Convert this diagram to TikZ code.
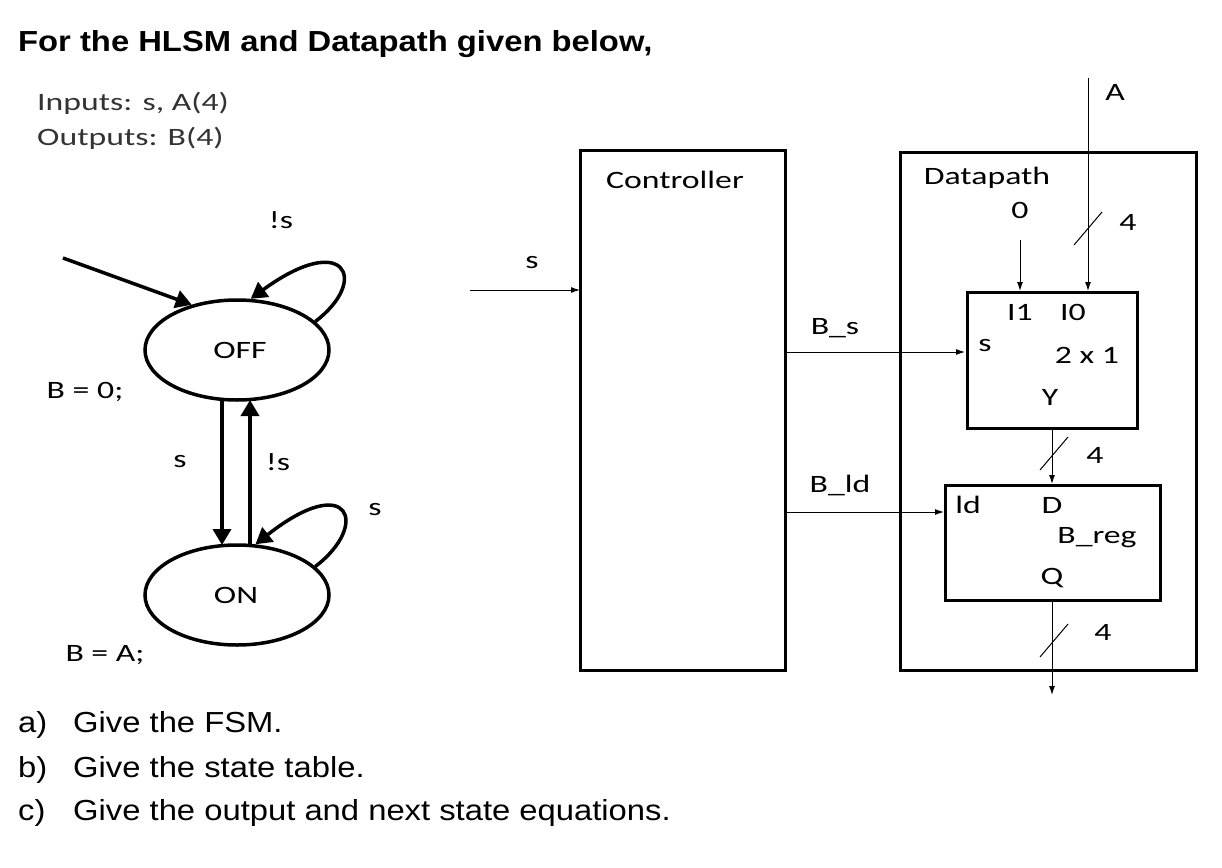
\documentclass[tikz,border=0pt]{standalone}
\usepackage{fontspec}
\setmainfont{Liberation Sans}[FakeStretch=1.13]
\newfontfamily\calfont{Carlito}[FakeStretch=1.35]
\usetikzlibrary{arrows.meta,shapes.geometric}
\begin{document}
\begin{tikzpicture}[x=1pt,y=-1pt,
  st/.style={draw,line width=3.5pt,ellipse,minimum width=184pt,minimum height=100pt},
  box/.style={draw,line width=3pt},
  lbl/.style={font=\calfont\fontsize{25}{28}\selectfont,inner sep=0pt},
  q/.style={font=\fontsize{29}{33}\selectfont,anchor=base west,inner sep=0pt},
  sig/.style={line width=1pt,-{Latex[length=9pt,width=6pt]}},
  fat/.style={line width=3.5pt,-{Triangle[length=16pt,width=18pt]}},
  slash/.style={line width=1pt}]
\useasboundingbox (0,0) rectangle (1222,867);
\node[anchor=base west,inner sep=0pt,font=\bfseries\fontsize{29}{33}\selectfont] (title) at (18,52) {For the HLSM and Datapath given below,};
\node[lbl,anchor=west,text=black!80] (in) at (37,103) {Inputs: s, A(4)};
\node[lbl,anchor=west,text=black!80] (out) at (37,138) {Outputs: B(4)};
% FSM
\node[st] (off) at (237,350) {};
\node[lbl] (offl) at (240,350) {OFF};
\node[st] (on) at (237,595) {};
\node[lbl] (onl) at (236,595) {ON};
\coordinate (init) at (63,258);
\draw[fat] (init) -- (off.135);
\draw[fat] (off.20) .. controls (370,280) and (345,230) .. (off.75);
\draw[fat] (222,400) -- (222,545);
\draw[fat] (250,545) -- (250,400);
\draw[fat] (on.20) .. controls (370,525) and (350,470) .. (on.70);
\node[lbl] (l1) at (281,220) {!s};
\node[lbl] (l2) at (180,462) {s};
\node[lbl] (l3) at (278,462) {!s};
\node[lbl] (l4) at (375,510) {s};
\node[lbl] (b0) at (85,392) {B = 0;};
\node[lbl] (bA) at (105,655) {B = A;};
% Controller and datapath
\draw[box] (580,150) rectangle (785,670);
\node[lbl] (ctl) at (675,180) {Controller};
\draw[box] (900,152) rectangle (1196,670);
\node[lbl] (dp) at (987,178) {Datapath};
\coordinate (sin) at (470,290);
\coordinate (sc) at (580,290);
\draw[sig] (sin) -- (sc);
\node[lbl] (sl) at (532,263) {s};
% mux
\draw[box] (967,292) rectangle (1137,428);
\node[lbl] (i1) at (1020,312) {I1};
\node[lbl] (i0) at (1073,312) {I0};
\node[lbl] (ms) at (985,346) {s};
\node[lbl] (mx) at (1087,355) {2 x 1};
\node[lbl] (my) at (1050,397) {Y};
\coordinate (bs0) at (785,352);
\coordinate (bs1) at (965,352);
\draw[sig] (bs0) -- (bs1);
\node[lbl] (bsl) at (835,328) {B\_s};
\coordinate (a0) at (1088,78);
\coordinate (a1) at (1088,291);
\draw[sig] (a0) -- (a1);
\node[lbl] (al) at (1115,92) {A};
\draw[slash] (1074,245) -- (1102,212);
\node[lbl] (a4) at (1128,222) {4};
\node[lbl] (z) at (1020,210) {0};
\coordinate (z0) at (1020,240);
\coordinate (z1) at (1020,291);
\draw[sig] (z0) -- (z1);
% register
\draw[box] (945,485) rectangle (1160,600);
\node[lbl] (ld) at (968,505) {ld};
\node[lbl] (d) at (1052,505) {D};
\node[lbl] (br) at (1097,538) {B\_reg};
\node[lbl] (qq) at (1052,578) {Q};
\coordinate (y0) at (1052,429);
\coordinate (y1) at (1052,484);
\draw[sig] (y0) -- (y1);
\draw[slash] (1040,470) -- (1068,437);
\node[lbl] (y4) at (1095,455) {4};
\coordinate (bl0) at (785,512);
\coordinate (bl1) at (944,512);
\draw[sig] (bl0) -- (bl1);
\node[lbl] (bll) at (840,485) {B\_ld};
\coordinate (q0) at (1052,601);
\coordinate (q1) at (1052,695);
\draw[sig] (q0) -- (q1);
\draw[slash] (1040,657) -- (1068,624);
\node[lbl] (q4) at (1103,632) {4};
% questions
\node[q] (qa) at (18,732) {a)};
\node[q] (qat) at (73,732) {Give the FSM.};
\node[q] (qb) at (18,777) {b)};
\node[q] (qbt) at (73,777) {Give the state table.};
\node[q] (qc) at (18,820) {c)};
\node[q] (qct) at (73,820) {Give the output and next state equations.};
\end{tikzpicture}
\end{document}
